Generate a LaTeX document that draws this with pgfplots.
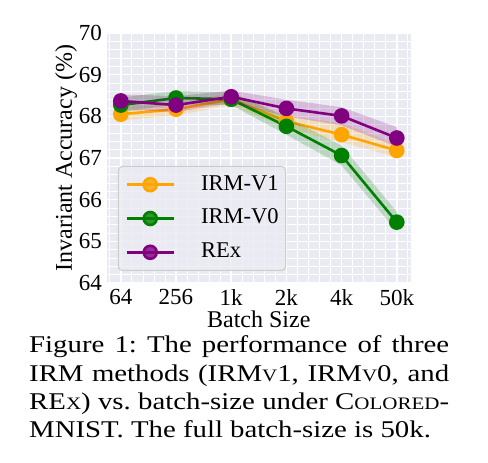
\documentclass[border=0pt]{standalone}
\usepackage{fontspec}
\setmainfont{Liberation Serif}
\usepackage{graphicx}
\usepackage{pgfplots}
\pgfplotsset{compat=1.18}
\definecolor{bgc}{HTML}{EAEAF2}
\definecolor{cor}{HTML}{FFA500}
\definecolor{cgr}{HTML}{008000}
\definecolor{cpu}{HTML}{800080}
\definecolor{lgedge}{HTML}{CCCCCC}
\newcommand\fsc[1]{{\fontsize{17.5}{17.5}\selectfont #1}}
\begin{document}
\begin{tikzpicture}
\path[use as bounding box] (0pt,0pt) rectangle (488pt,463pt);
\begin{axis}[
  at={(107pt,180pt)}, anchor=south west,
  scale only axis, width=303.6pt, height=250pt,
  xmin=-0.25, xmax=5.25, ymin=64, ymax=70,
  xtick={0,1,2,3,4,5}, xticklabels={64,256,1k,2k,4k,50k},
  ytick={64,65,66,67,68,69,70},
  minor xtick={-0.2,0,0.2,...,5.2},
  minor ytick={64,64.2,...,70},
  grid=both,
  major grid style={white, line width=1.5pt},
  minor grid style={white, line width=0.7pt},
  axis background/.style={fill=bgc},
  axis line style={draw=none},
  major tick length=0pt, minor tick length=0pt,
  tick label style={font=\fontsize{23}{23}\selectfont, inner sep=0pt},
  /pgf/number format/assume math mode=true,
  xticklabel style={yshift=-6pt},
  yticklabel style={xshift=-5pt},
  xlabel={Batch Size}, ylabel={Invariant Accuracy (\%)},
  label style={font=\fontsize{24}{24}\selectfont},
  xlabel style={at={(axis description cs:0.5,-0.144)}, anchor=center},
  ylabel style={at={(axis description cs:-0.135,0.5)}, anchor=center},
  legend cell align=left,
  legend style={at={(axis description cs:0.036,0.048)}, anchor=south west,
    fill=bgc, fill opacity=0.8, text opacity=1, draw=lgedge, line width=1pt,
    rounded corners=4pt, font=\fontsize{22.5}{22.5}\selectfont,
    inner xsep=7pt, inner ysep=8.7pt, row sep=14.8pt, column sep=26pt,
    nodes={inner sep=0pt, text height=15pt, text depth=4pt}},
  legend image code/.code={\draw[mark repeat=2,mark phase=2,#1] plot coordinates {(0pt,0pt) (23.5pt,0pt) (47pt,0pt)};},
]
% IRM-V1
\addplot[fill=cor, fill opacity=0.2, draw=none, forget plot] coordinates {(0,68.20)(1,68.30)(2,68.56)(3,68.02)(4,67.84)(5,67.34)(5,67.02)(4,67.38)(3,67.72)(2,68.27)(1,68.02)(0,67.90)} -- cycle;
\addplot[cor, line width=2.6pt, mark=*, mark size=6.5pt, mark options={solid, fill=cor, draw=none}] coordinates {(0,68.05)(1,68.17)(2,68.41)(3,67.88)(4,67.56)(5,67.18)};
\addlegendentry{IRM-V1}
% IRM-V0
\addplot[fill=cgr, fill opacity=0.2, draw=none, forget plot] coordinates {(0,68.45)(1,68.61)(2,68.58)(3,67.98)(4,67.30)(5,65.71)(5,65.24)(4,66.82)(3,67.56)(2,68.27)(1,68.29)(0,68.10)} -- cycle;
\addplot[cgr, line width=2.6pt, mark=*, mark size=6.5pt, mark options={solid, fill=cgr, draw=none}] coordinates {(0,68.27)(1,68.44)(2,68.41)(3,67.76)(4,67.06)(5,65.46)};
\addlegendentry{IRM-V0}
% REx
\addplot[fill=cpu, fill opacity=0.2, draw=none, forget plot] coordinates {(0,68.53)(1,68.48)(2,68.62)(3,68.40)(4,68.22)(5,67.74)(5,67.27)(4,67.78)(3,68.00)(2,68.32)(1,68.10)(0,68.17)} -- cycle;
\addplot[cpu, line width=2.6pt, mark=*, mark size=6.5pt, mark options={solid, fill=cpu, draw=none}] coordinates {(0,68.37)(1,68.27)(2,68.47)(3,68.19)(4,68.01)(5,67.48)};
\addlegendentry{REx}
\end{axis}
\node[anchor=base west, inner sep=0pt] at (29pt,110pt) {\scalebox{1.2}[1]{\parbox[t]{350pt}{\fontsize{24}{28.3}\selectfont
Figure 1:\ The performance of three\linebreak
IRM methods (IRM\fsc{V}1, IRM\fsc{V}0, and\linebreak
RE\fsc{X}) vs.\ batch-size under C\fsc{OLORED}-\linebreak
MNIST. The full batch-size is 50k.}}};
\end{tikzpicture}
\end{document}
